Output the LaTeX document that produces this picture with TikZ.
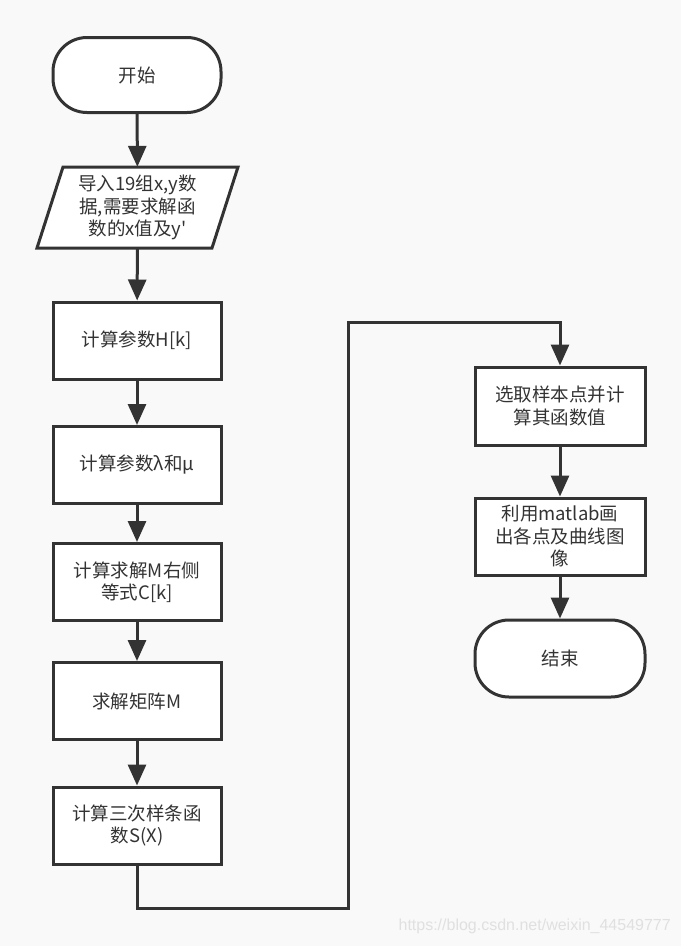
\documentclass[tikz,border=0pt]{standalone}
\usepackage{fontspec}
\newfontfamily\cjk{Noto Sans CJK SC}
\usetikzlibrary{arrows.meta,calc}
\definecolor{ink}{HTML}{333333}
\definecolor{bg}{HTML}{F9F9F9}
\begin{document}
\begin{tikzpicture}[x=1pt,y=-1pt,
  base/.style={font=\cjk\fontsize{18.5}{22.5}\selectfont, text=ink, align=center, inner sep=0pt},
  procbox/.style={base, draw=ink, line width=3pt, fill=white, minimum width=168pt, minimum height=77pt},
  termbox/.style={procbox, rounded corners=34pt, minimum height=75pt},
  conn/.style={draw=ink, line width=3pt, -{Triangle[length=21pt,width=18pt]}},
]
\fill[bg] (0,0) rectangle (681,946);
\useasboundingbox (0,0) rectangle (681,946);

\node[termbox] (start) at (137,75) {开始};
\node[base, minimum width=149pt, minimum height=81pt] (inp) at (137.5,207.5) {\phantom{导入19组x,y数}};
\draw[ink, line width=3pt, fill=white, line join=miter]
  ($(inp.center)+(-100.5,40.5)$) -- ($(inp.center)+(74.5,40.5)$) --
  ($(inp.center)+(100.5,-40.5)$) -- ($(inp.center)+(-74.5,-40.5)$) -- cycle;
\node[base] (inptext) at (inp.center) {导入19组x,y数\\据,需要求解函\\数的x值及y'};

\node[procbox] (h) at (137,340.5) {计算参数H[k]};
\node[procbox] (lm) at (137,465) {计算参数λ和μ};
\node[procbox] (ck) at (137,582) {计算求解M右侧\\等式C[k]};
\node[procbox] (m) at (137,701) {求解矩阵M};
\node[procbox] (s) at (137,825.5) {计算三次样条函\\数S(X)};

\node[procbox, minimum width=170pt, minimum height=78pt] (r1) at (560,406) {选取样本点并计\\算其函数值};
\node[procbox, minimum width=170pt, minimum height=77pt] (r2) at (560,536.5) {利用matlab画\\出各点及曲线图\\像};
\node[termbox, minimum width=170pt, minimum height=77pt] (end) at (560,658.5) {结束};

\coordinate (c1) at (348,908);
\coordinate (c2) at (348,322);

\draw[conn] (start) -- (inp);
\draw[conn] (inp) -- (h);
\draw[conn] (h) -- (lm);
\draw[conn] (lm) -- (ck);
\draw[conn] (ck) -- (m);
\draw[conn] (m) -- (s);
\draw[conn] (s.south) |- (c1) -- (c2) -| (r1.north);
\draw[conn] (r1) -- (r2);
\draw[conn] (r2) -- (end);

\node[font=\fontspec{Liberation Sans}\fontsize{16}{18}\selectfont, text=black!12, anchor=east, inner sep=0pt] (wm) at (671,926) {https://blog.csdn.net/weixin\_44549777};
\end{tikzpicture}
\end{document}
